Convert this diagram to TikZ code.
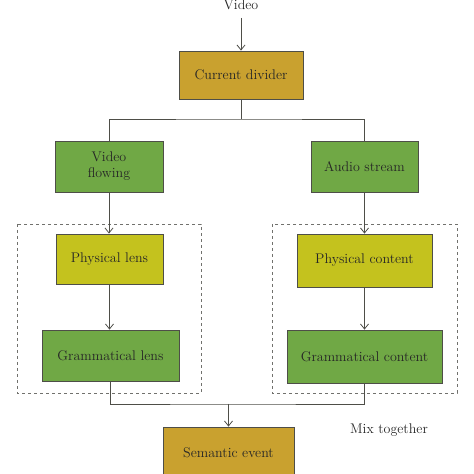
\documentclass[tikz,border=0pt]{standalone}
\usepackage{tikz}
\usetikzlibrary{positioning,arrows.meta}

\definecolor{gold}{HTML}{C9A12F}
\definecolor{leaf}{HTML}{70A845}
\definecolor{lime}{HTML}{C4C21E}
\definecolor{edge}{HTML}{4E4E48}

\begin{document}
\begin{tikzpicture}[x=1pt, y=1pt,
    box/.style={draw=edge, line width=0.8pt, inner sep=0pt, text=black!85,
        font=\fontsize{14}{16}\selectfont, align=center},
    wire/.style={draw=edge, line width=0.8pt},
    arr/.style={wire, -{Straight Barb[length=5pt, width=8pt]}},
    group/.style={draw=edge!80, line width=0.8pt, dashed}]
    \useasboundingbox (0,0) rectangle (474,474);

    \node[anchor=base, font=\fontsize{14}{16}\selectfont, text=black!85] (video) at (241,464) {Video};

    \node[box, fill=gold, minimum width=124, minimum height=48] (cur) at (241,399) {Current divider};
    \node[box, fill=leaf, minimum width=108, minimum height=51] (vid) at (109,307.5) {Video\\flowing};
    \node[box, fill=leaf, minimum width=107, minimum height=51] (aud) at (364.5,307.5) {Audio stream};

    \draw[group] (17,250) rectangle (201,81);
    \draw[group] (272,250) rectangle (457,81);

    \node[box, fill=lime, minimum width=107, minimum height=50] (pl) at (109.5,215) {Physical lens};
    \node[box, fill=leaf, minimum width=137, minimum height=51] (gl) at (110.5,118.5) {Grammatical lens};
    \node[box, fill=lime, minimum width=135, minimum height=53] (pc) at (364.5,213.5) {Physical content};
    \node[box, fill=leaf, minimum width=155, minimum height=53] (gc) at (364.5,117.5) {Grammatical content};

    \node[box, fill=gold, minimum width=131, minimum height=51] (sem) at (228.5,21.5) {Semantic event};
    \node[font=\fontsize{14}{16}\selectfont, text=black!85] (mix) at (389,44) {Mix together};

    \coordinate (split) at (241,355);
    \coordinate (merge) at (228.5,70);

    \draw[arr] (video.south) ++(0,-4) -- (cur.north);
    \draw[wire] (cur.south) -- (split);
    \draw[wire] (vid.north) |- (split) -| (aud.north);
    \draw[arr] (vid.south) -- (vid.south |- pl.north);
    \draw[arr] (aud.south) -- (pc.north);
    \draw[arr] (pl.south) -- (pl.south |- gl.north);
    \draw[arr] (pc.south) -- (gc.north);
    \draw[wire] (gl.south) |- (merge) -| (gc.south);
    \draw[arr] (merge) -- (sem.north);

\end{tikzpicture}
\end{document}
